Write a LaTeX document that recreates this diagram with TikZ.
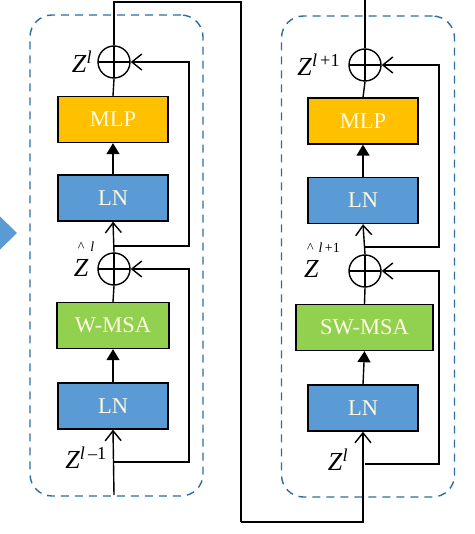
\documentclass[tikz,border=0pt]{standalone}
\usepackage{fontspec}
\setmainfont{Liberation Serif}
\usepackage{xcolor}
\usetikzlibrary{arrows.meta,positioning}
\definecolor{mlporange}{HTML}{FFC000}
\definecolor{lnblue}{HTML}{5B9BD5}
\definecolor{msagreen}{HTML}{92D050}
\definecolor{framebl}{HTML}{2A6FA0}
\definecolor{boxtext}{HTML}{FFFBE0}
\tikzset{
  blk/.style={draw=black, line width=1.4pt, minimum width=110pt, minimum height=46pt,
              inner sep=0pt, text=boxtext, font=\fontsize{22.5}{24}\selectfont},
  lnbox/.style={blk, fill=lnblue},
  mlpbox/.style={blk, fill=mlporange},
  msabox/.style={blk, fill=msagreen, minimum width=112pt},
  addop/.style={circle, draw, line width=1.4pt, minimum size=32pt, inner sep=0pt,
                path picture={\draw[line width=1.4pt]
                  (path picture bounding box.north) -- (path picture bounding box.south)
                  (path picture bounding box.west) -- (path picture bounding box.east);}},
  frame/.style={draw=framebl, dash pattern=on 8pt off 6pt, line width=1.4pt,
                rounded corners=22pt, minimum width=173pt, minimum height=481pt},
  conn/.style={line width=1.4pt},
  openarr/.style={conn, -{Straight Barb[length=10pt,width=16pt]}},
  fillarr/.style={conn, -{Triangle[length=11pt,width=13pt]}},
  zlbl/.style={font=\fontsize{26}{28}\selectfont, inner sep=0pt},
  hatlbl/.style={zlbl, align=left}
}

\begin{document}
\begin{tikzpicture}[x=1pt, y=-1pt]
  \useasboundingbox (0,0) rectangle (474,534);

  % arrow coming in from the left
  \fill[lnblue] (-20,197) -- (17,233) -- (-20,269) -- cycle;

  % first block (W-MSA)
  \node[frame] (blockA) at (116.5,255.5) {};
  \node[addop] (addA) at (114,62) {};
  \node[mlpbox] (mlpA) at (113,119.5) {MLP};
  \node[lnbox] (lnA1) at (113,198) {LN};
  \node[addop] (addB) at (114,269) {};
  \node[msabox] (msaA) at (113,325.5) {W-MSA};
  \node[lnbox] (lnA2) at (113,406) {LN};

  \node[zlbl, left=5pt of addA] (zA) {\textit{Z}\textsuperscript{\textit{l}}};
  \node[hatlbl] (zhatA) at (84,259) {{\fontsize{14}{14}\selectfont\hspace{4pt}\textasciicircum\hspace{6pt}\textit{l}}\\[-3pt]\textit{Z}};
  \node[zlbl] (zinA) at (86,458) {\textit{Z}\textsuperscript{\textit{l}\,–1}};

  \coordinate (inA) at (114,495);
  \coordinate (tapA1) at (114,246);
  \coordinate (skipA1) at (189,246);
  \coordinate (tapA2) at (114,462);
  \coordinate (skipA2) at (189,462);

  % second block (SW-MSA)
  \node[frame] (blockB) at (368,256.5) {};
  \node[addop] (addC) at (365,65) {};
  \node[mlpbox] (mlpB) at (363,121) {MLP};
  \node[lnbox] (lnB1) at (363,200.5) {LN};
  \node[addop] (addD) at (365,271) {};
  \node[msabox, minimum width=137pt] (msaB) at (364.5,327.5) {SW-MSA};
  \node[lnbox] (lnB2) at (363,408) {LN};

  \node[zlbl, left=8pt of addC] (zB) {\textit{Z}\textsuperscript{\textit{l}\,+1}};
  \node[hatlbl] (zhatB) at (322,260) {{\fontsize{14}{14}\selectfont\hspace{3pt}\textasciicircum\hspace{5pt}\textit{l}\,+1}\\[-3pt]\textit{Z}};
  \node[zlbl] (zinB) at (338,460) {\textit{Z}\textsuperscript{\textit{l}}};

  \coordinate (tapB1) at (365,247);
  \coordinate (skipB1) at (439,247);
  \coordinate (tapB2) at (365,464);
  \coordinate (skipB2) at (439,464);
  \coordinate (outB) at (365,0);

  % link between the blocks
  \coordinate (topA) at (114,2);
  \coordinate (topB) at (241,2);
  \coordinate (botA) at (241,522);

  % first block connectors
  \draw[openarr] (inA) -- (lnA2.south);
  \draw[fillarr] (lnA2.north) -- (msaA.south);
  \draw[conn] (msaA.north) -- (addB.south);
  \draw[openarr] (addB.north) -- (lnA1.south);
  \draw[fillarr] (lnA1.north) -- (mlpA.south);
  \draw[conn] (mlpA.north) -- (addA.south);
  \draw[openarr] (tapA2) -- (skipA2) |- (addB.east);
  \draw[openarr] (tapA1) -- (skipA1) |- (addA.east);

  \draw[conn] (addA.north) -- (topA) -- (topB) -- (botA);
  \draw[openarr] (botA) -| (lnB2.south);

  % second block connectors
  \draw[fillarr] (lnB2.north) -- (msaB.south);
  \draw[conn] (msaB.north) -- (addD.south);
  \draw[openarr] (addD.north) -- (lnB1.south);
  \draw[fillarr] (lnB1.north) -- (mlpB.south);
  \draw[conn] (mlpB.north) -- (addC.south);
  \draw[openarr] (tapB2) -- (skipB2) |- (addD.east);
  \draw[openarr] (tapB1) -- (skipB1) |- (addC.east);
  \draw[conn] (addC.north) -- (outB);
\end{tikzpicture}
\end{document}
